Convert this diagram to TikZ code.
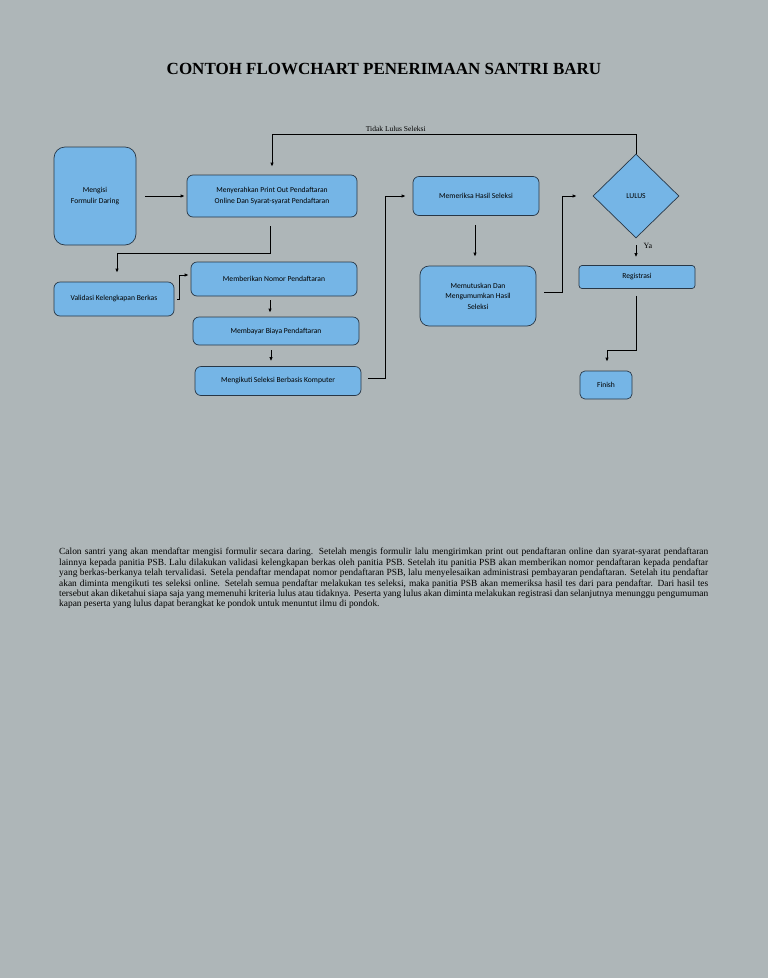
\documentclass[tikz,border=0pt]{standalone}
\usepackage{fontspec}
\setmainfont{Liberation Serif}
\newfontfamily\boxfont{Carlito}
\usetikzlibrary{shapes.geometric,arrows.meta}
\definecolor{bg}{RGB}{174,182,184}
\definecolor{boxfill}{RGB}{117,181,230}
\definecolor{edge}{RGB}{40,55,70}
\begin{document}
\begin{tikzpicture}[x=1pt,y=-1pt,
  box/.style={draw=edge,line width=0.7pt,fill=boxfill,rounded corners=6pt,inner sep=0pt,font=\boxfont\fontsize{7.6}{10.5}\selectfont,align=center},
  conn/.style={draw=black,line width=0.8pt,-{Latex[length=4pt,width=3.5pt]}}]
\fill[bg] (0,0) rectangle (768,978);
\useasboundingbox (0,0) rectangle (768,978);
\node (title) at (384,69) {\fontsize{17}{20}\selectfont\bfseries CONTOH FLOWCHART PENERIMAAN SANTRI BARU};
\node[box,rounded corners=11pt,minimum width=82pt,minimum height=98pt] (a) at (95,196) {Mengisi\\Formulir Daring};
\node[box,minimum width=170pt,minimum height=42pt] (b) at (272,196) {Menyerahkan Print Out Pendaftaran\\Online Dan Syarat-syarat Pendaftaran};
\node[box,minimum width=120pt,minimum height=34pt] (c) at (114,299) {Validasi Kelengkapan Berkas};
\node[box,minimum width=166pt,minimum height=34pt] (d) at (274,279) {Memberikan Nomor Pendaftaran};
\node[box,minimum width=166pt,minimum height=28pt] (e) at (276,331) {Membayar Biaya Pendaftaran};
\node[box,minimum width=166pt,minimum height=29pt] (f) at (278,381) {Mengikuti Seleksi Berbasis Komputer};
\node[box,minimum width=126pt,minimum height=39pt] (g) at (476,196) {Memeriksa Hasil Seleksi};
\node[box,rounded corners=9pt,minimum width=116pt,minimum height=60pt] (h) at (478,296) {Memutuskan Dan\\Mengumumkan Hasil\\Seleksi};
\node[box,diamond,rounded corners=0pt,minimum width=86pt,minimum height=84pt] (i) at (636,196) {LULUS};
\node[box,rounded corners=3pt,minimum width=116pt,minimum height=23pt] (j) at (637,277) {Registrasi};
\node[box,rounded corners=5pt,minimum width=52pt,minimum height=28pt] (k) at (606,385) {Finish};
% connectors
\draw[conn,shorten <=9pt,shorten >=2pt] (a.east) -- (b.west);
\draw[conn,shorten >=8pt] (i.north) -- ++(0,-19) -| (b.north) node[pos=0.33,above=-1pt,font=\fontsize{7.5}{9}\selectfont] (t) {Tidak Lulus Seleksi};
\draw[conn,shorten >=9pt,shorten <=9pt] ([xshift=-2pt]b.south) |- (117,253) -- (c.north -| 117,0);
\draw[conn,shorten >=2pt,shorten <=3pt] (c.east) -- ++(5,0) |- ([yshift=4pt]d.west);
\draw[conn,shorten >=4pt,shorten <=4pt] ([xshift=-4pt]d.south) -- ([xshift=-6pt]e.north);
\draw[conn,shorten >=5pt,shorten <=5pt] ([xshift=-5pt]e.south) -- ([xshift=-7pt]f.north);
\draw[conn,shorten >=7pt,shorten <=7pt] ([yshift=3pt]f.east) -- ++(24,0) |- (g.west);
\draw[conn,shorten >=9pt,shorten <=9pt] ([xshift=-1pt]g.south) -- ([xshift=-3pt]h.north);
\draw[conn,shorten >=16pt,shorten <=8pt] ([yshift=4pt]h.east) -- ++(26,0) |- (i.west);
\draw[conn,shorten >=8pt,shorten <=7pt] (i.south) -- (j.north -| i.south) node[pos=0.3,right=4pt,font=\fontsize{8}{9}\selectfont] {Ya};
\draw[conn,shorten >=9pt,shorten <=7pt] (j.south -| 636,0) |- (607,350) -- (k.north -| 607,0);
\node[text width=649pt,align=justify,inner sep=0pt,anchor=north west,font=\fontsize{9.4}{10.4}\selectfont] (p) at (59,548) {Calon santri yang akan mendaftar mengisi formulir secara daring. Setelah mengis formulir lalu mengirimkan print out pendaftaran online dan syarat-syarat pendaftaran lainnya kepada panitia PSB. Lalu dilakukan validasi kelengkapan berkas oleh panitia PSB. Setelah itu panitia PSB akan memberikan nomor pendaftaran kepada pendaftar yang berkas-berkanya telah tervalidasi. Setela pendaftar mendapat nomor pendaftaran PSB, lalu menyelesaikan administrasi pembayaran pendaftaran. Setelah itu pendaftar akan diminta mengikuti tes seleksi online. Setelah semua pendaftar melakukan tes seleksi, maka panitia PSB akan memeriksa hasil tes dari para pendaftar. Dari hasil tes tersebut akan diketahui siapa saja yang memenuhi kriteria lulus atau tidaknya. Peserta yang lulus akan diminta melakukan registrasi dan selanjutnya menunggu pengumuman kapan peserta yang lulus dapat berangkat ke pondok untuk menuntut ilmu di pondok.\par};
\end{tikzpicture}
\end{document}
